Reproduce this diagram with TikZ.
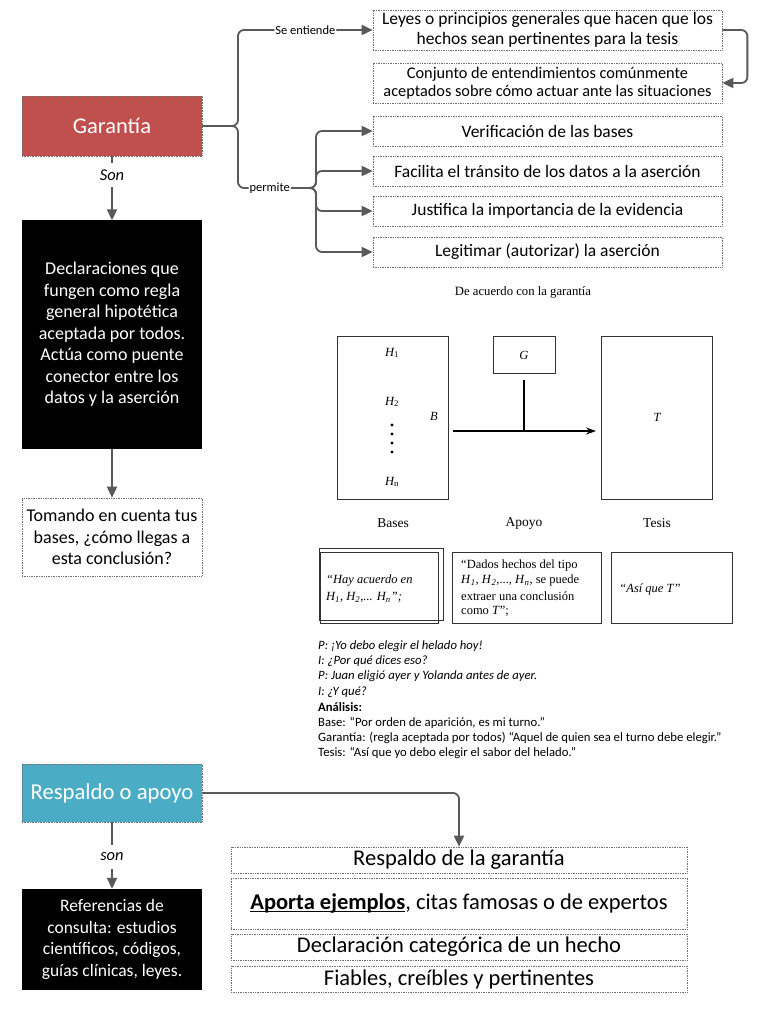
\documentclass[tikz,border=0pt]{standalone}
\usepackage{fontspec}
\setmainfont{Carlito}
\newfontfamily\tnr{Liberation Serif}
\usetikzlibrary{arrows.meta}
\definecolor{garred}{HTML}{C0504D}
\definecolor{respblue}{HTML}{4BACC6}
\definecolor{connc}{HTML}{595959}
\definecolor{dotgray}{HTML}{6F6F6F}
\newcommand{\fs}[2]{\fontsize{#1}{#2}\selectfont}
\newcommand{\myul}[1]{\setbox0\hbox{#1}\rlap{\rule[-2.6pt]{\wd0}{1.3pt}}\box0}
\tikzset{
  conn/.style={draw=connc, line width=1.8pt, rounded corners=6pt},
  arr/.style={conn, -{Triangle[length=11pt,width=10pt]}},
  dbox/.style={draw=dotgray, densely dotted, line width=0.7pt, inner sep=2pt, align=center, text=black},
  rbox/.style={dbox, minimum width=349, font=\fs{17.5}{20}},
  bbox/.style={dbox, minimum width=456, font=\fs{22.5}{26}},
  colbox/.style={draw=dotgray, densely dotted, line width=0.6pt, text=white, minimum width=180, align=center},
  blackbox/.style={fill=black, text=white, minimum width=180, align=center, font=\fs{18}{21.5}},
  lbl/.style={fill=white, inner sep=1pt, font=\fs{12.5}{14}},
  sonlbl/.style={inner sep=0pt, minimum height=24, font=\fs{16.5}{18}\itshape},
  sbox/.style={draw=black!80, line width=0.8pt},
  serif/.style={font=\tnr\fs{12.5}{15.5}, inner sep=0pt},
  txt/.style={anchor=west, inner sep=0pt, font=\fs{12.7}{14}},
}
\begin{document}
\begin{tikzpicture}[x=1pt,y=-1pt]
\useasboundingbox[fill=white] (0,0) rectangle (768,1024);

% ---------- Garantia block ----------
\node[colbox, fill=garred, minimum height=60, font=\fs{22.5}{26}] (gar) at (112,126) {Garantía};
\node[sonlbl] (son1) at (112,175) {Son};
\node[blackbox, minimum height=228] (decl) at (112,334.5) {Declaraciones que\\fungen como regla\\general hipotética\\aceptada por todos.\\Actúa como puente\\conector entre los\\datos y la aserción};
\node[dbox, minimum width=180, minimum height=78, font=\fs{18}{21.5}] (tom) at (112,537) {Tomando en cuenta tus\\bases, ¿cómo llegas a\\esta conclusión?};

\draw[conn] (gar.south) -- (son1.north);
\draw[arr] (son1.south) -- (decl.north);
\draw[arr] (decl.south) -- (tom.north);

% right boxes
\node[rbox, minimum height=40] (b1) at (547.5,30) {Leyes o principios generales que hacen que los\\hechos sean pertinentes para la tesis};
\node[rbox, minimum height=40, font=\fs{16.3}{17.5}] (b2) at (547.5,83) {Conjunto de entendimientos comúnmente\\aceptados sobre cómo actuar ante las situaciones};
\node[rbox, minimum height=30] (b3) at (547.5,131) {Verificación de las bases};
\node[rbox, minimum height=30] (b4) at (547.5,171) {Facilita el tránsito de los datos a la aserción};
\node[rbox, minimum height=30] (b5) at (547.5,211) {Justifica la importancia de la evidencia};
\node[rbox, minimum height=30] (b6) at (547.5,252) {Legitimar (autorizar) la aserción};

\coordinate (jt) at (238,126);
\coordinate (pj) at (310,188);
\coordinate (pk) at (316,188);

\draw[arr] (gar.east) -- (jt) |- node[lbl, pos=0.75] {Se entiende} (b1.west);
\draw[conn] (gar.east) -- (jt) |- node[lbl, pos=0.72] {permite} (pj);
\draw[arr] (pj) -- (pk) |- (b3.west);
\draw[arr] (pj) -- (pk) |- (b4.west);
\draw[arr] (pj) -- (pk) |- (b5.west);
\draw[arr] (pj) -- (pk) |- (b6.west);
\draw[arr] (b1.east) -- ++(25,0) |- (b2.east);

% ---------- middle Toulmin diagram ----------
\node[serif, font=\tnr\fs{12.7}{14}] (title) at (523,292) {De acuerdo con la garantía};
\node[sbox, minimum width=111, minimum height=163] (bases) at (392.5,417.5) {};
\node[sbox, minimum width=111, minimum height=163] (tesis) at (656.5,417.5) {};
\node[sbox, minimum width=62, minimum height=37] (gbox) at (524,354.5) {};
\node[serif] (gl) at (524,355) {\itshape G};
\node[serif] (h1) at (392,353) {\itshape H\textsubscript{\upshape 1}};
\node[serif] (h2) at (392,402) {\itshape H\textsubscript{\upshape 2}};
\node[serif] (hn) at (392,482) {\itshape H\textsubscript{\upshape n}};
\foreach \yy [count=\i] in {425,434,443,452} \fill (392,\yy) circle (1.6pt) coordinate (dot\i);
\node[serif] (bl) at (434,416) {\itshape B};
\node[serif] (tl) at (657,417) {\itshape T};
\coordinate (a1) at (453,431);
\coordinate (a2) at (596,431);
\coordinate (aj) at (524,431);
\draw[line width=1.5pt, -{Stealth[length=10pt,width=7pt]}] (a1) -- (a2);
\draw[line width=1.5pt] ([yshift=-7pt]gbox.south) -- (aj);
\node[serif, font=\tnr\fs{13.5}{16}] (basesl) at (393,523) {Bases};
\node[serif, font=\tnr\fs{13.5}{16}] (apoyol) at (524,523) {Apoyo};
\node[serif, font=\tnr\fs{13.5}{16}] (tesisl) at (657,523) {Tesis};

\node[sbox, minimum width=124, minimum height=72] (qa) at (381,584) {};
\node[sbox, minimum width=118, minimum height=71] (qa2) at (379,587.5) {};
\node[serif, anchor=west, font=\tnr\fs{12.5}{15.5}\itshape] (qa1t) at (326,581) {“Hay acuerdo en};
\node[serif, anchor=west, font=\tnr\fs{12.5}{15.5}\itshape] (qa2t) at (326,597) {H\textsubscript{1}, H\textsubscript{2},... H\textsubscript{n}”;};

\node[sbox, minimum width=149, minimum height=71] (qb) at (526.5,587.5) {};
\node[serif, anchor=west] (qb1) at (461,565) {“Dados hechos del tipo};
\node[serif, anchor=west] (qb2) at (461,580.5) {\textit{H}\textsubscript{\itshape 1}, \textit{H}\textsubscript{\itshape 2},..., \textit{H}\textsubscript{\itshape n}, se puede};
\node[serif, anchor=west] (qb3) at (461,596) {extraer una conclusión};
\node[serif, anchor=west] (qb4) at (461,611.5) {como \textit{T}”;};

\node[sbox, minimum width=121, minimum height=71] (qc) at (671.5,587.5) {};
\node[serif, font=\tnr\fs{12.5}{15.5}\itshape] (qct) at (650,589) {“Así que T”};

% ---------- example text ----------
\node[txt] (l1) at (318,646) {\itshape P: ¡Yo debo elegir el helado hoy!};
\node[txt] (l2) at (318,661) {\itshape I: ¿Por qué dices eso?};
\node[txt] (l3) at (318,676.5) {\itshape P: Juan eligió ayer y Yolanda antes de ayer.};
\node[txt] (l4) at (318,692) {\itshape I: ¿Y qué?};
\node[txt] (l5) at (318,707) {\bfseries Análisis:};
\node[txt] (l6) at (318,722.5) {Base: “Por orden de aparición, es mi turno.”};
\node[txt] (l7) at (318,738) {Garantía: (regla aceptada por todos) “Aquel de quien sea el turno debe elegir.”};
\node[txt] (l8) at (318,753) {Tesis: “Así que yo debo elegir el sabor del helado.”};

% ---------- Respaldo block ----------
\node[colbox, fill=respblue, minimum height=58, font=\fs{22.7}{26}] (resp) at (112,793) {Respaldo o apoyo};
\node[sonlbl] (son2) at (112,857) {son};
\node[blackbox, minimum height=101, font=\fs{17.5}{21.5}] (ref) at (112,939.5) {Referencias de\\consulta: estudios\\científicos, códigos,\\guías clínicas, leyes.};
\draw[conn] (resp.south) -- (son2.north);
\draw[arr] (son2.south) -- (ref.north);

\node[bbox, minimum height=26] (r1) at (459,860) {Respaldo de la garantía};
\node[bbox, minimum height=51] (r2) at (459,903.5) {\myul{\textbf{Aporta ejemplos}}, citas famosas o de expertos};
\node[bbox, minimum height=26] (r3) at (459,947) {Declaración categórica de un hecho};
\node[bbox, minimum height=26] (r4) at (459,979) {Fiables, creíbles y pertinentes};
\draw[arr] (resp.east) -| (r1.north);
\end{tikzpicture}
\end{document}
